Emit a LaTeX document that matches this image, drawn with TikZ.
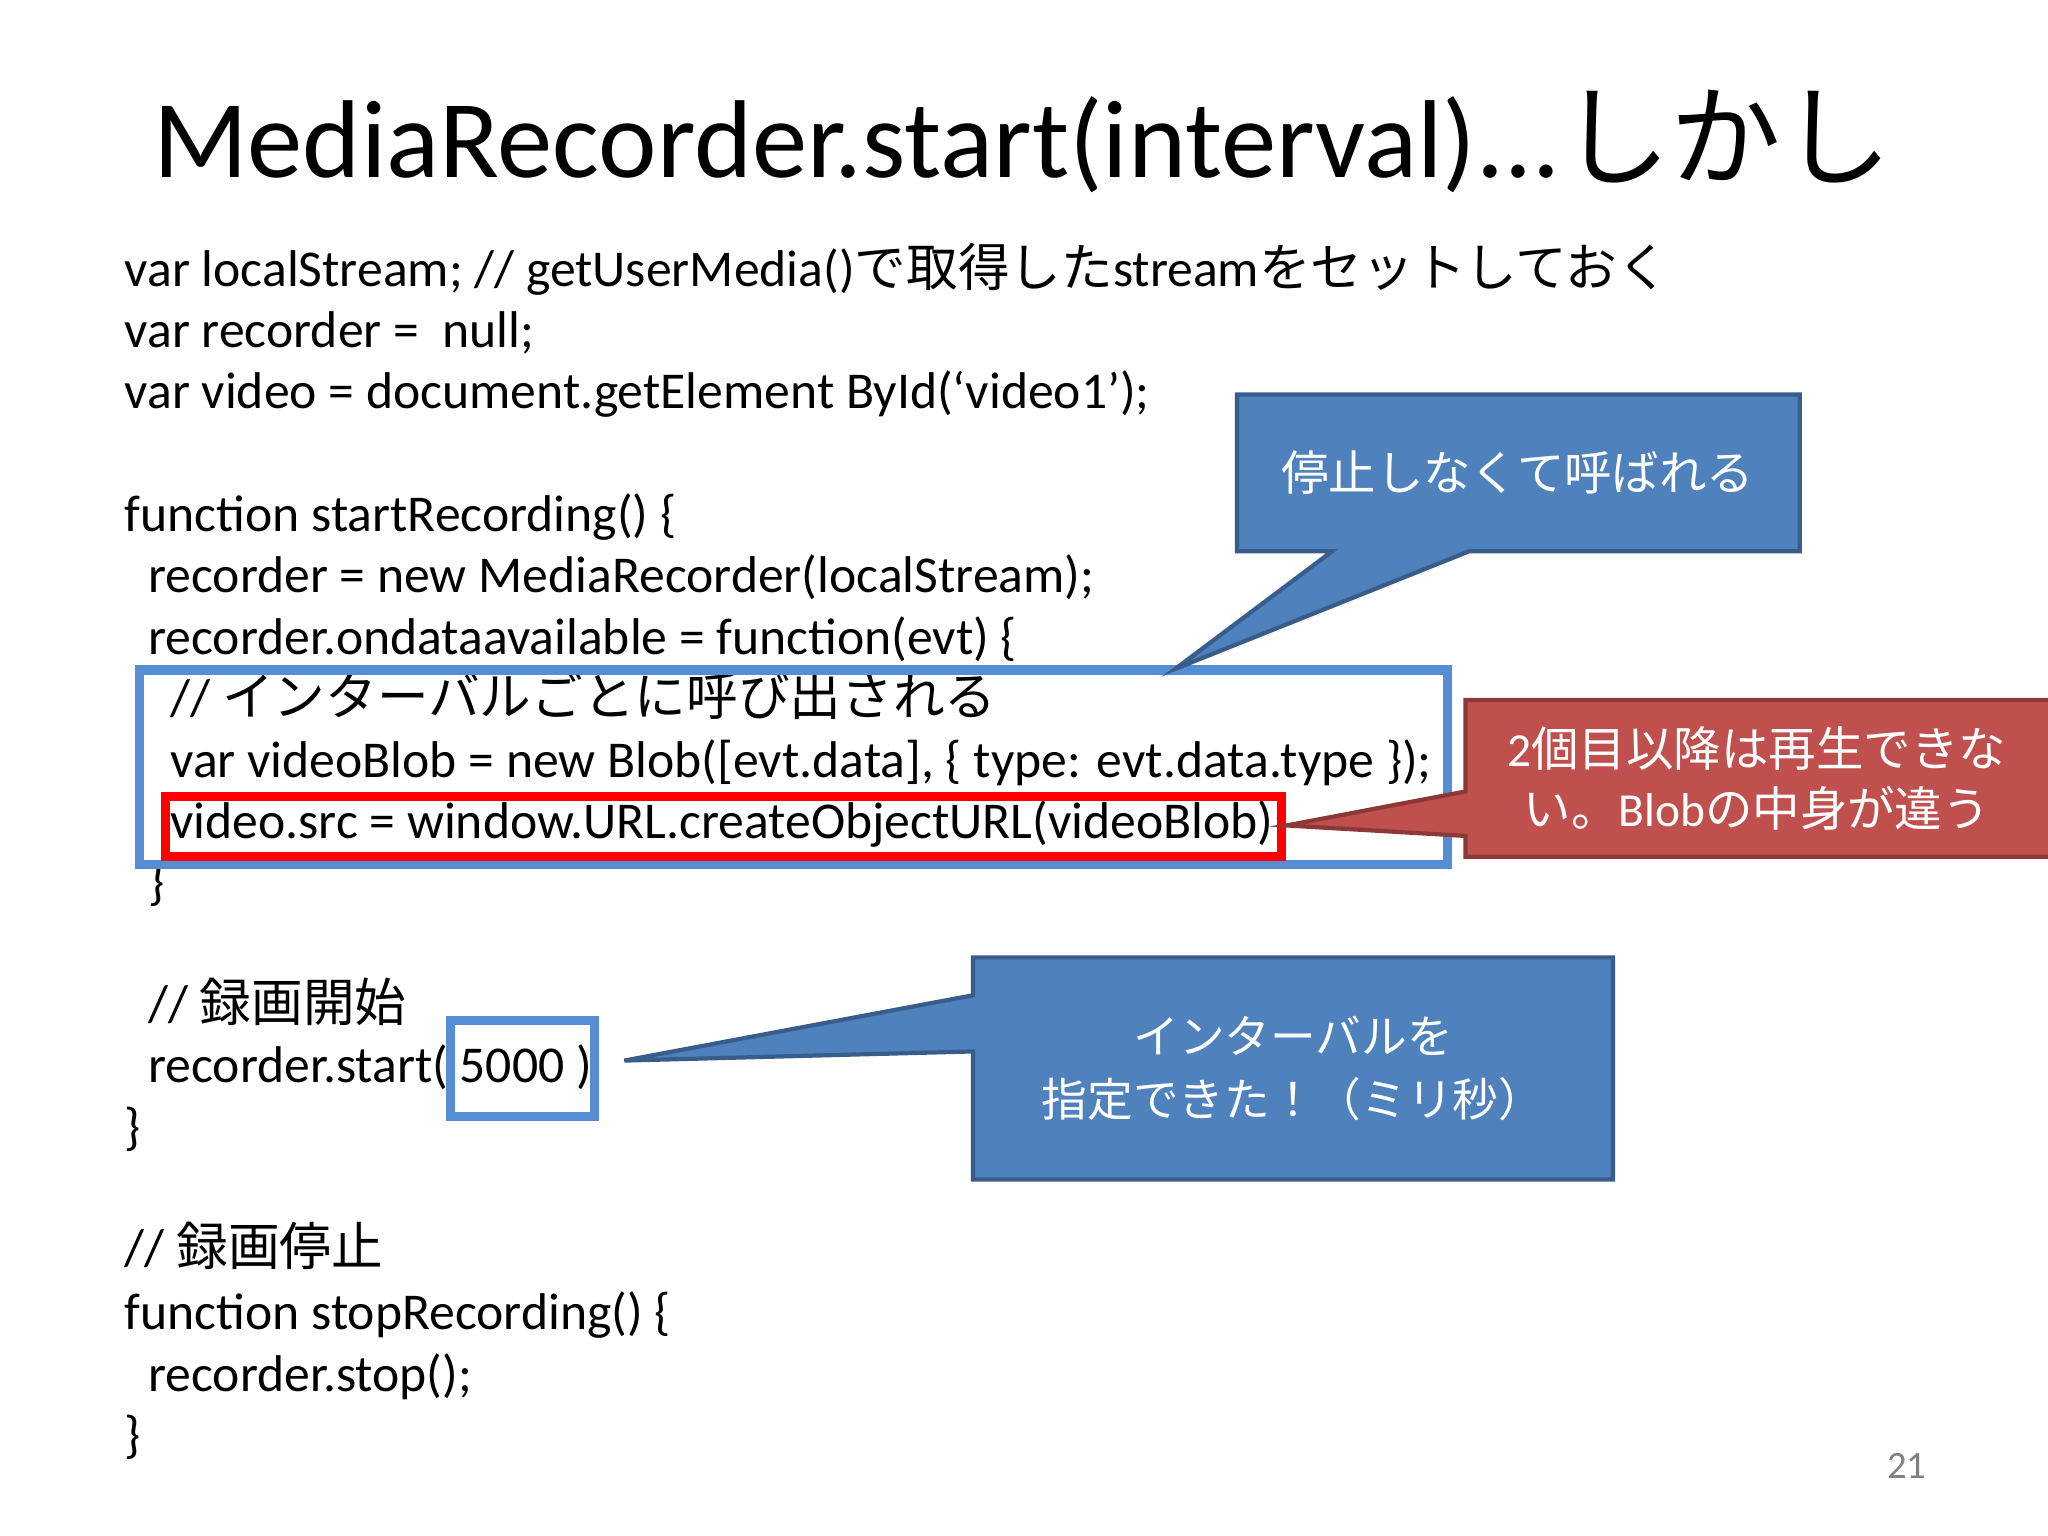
\documentclass[tikz,border=0pt]{standalone}
\usepackage{fontspec}
\setmainfont{Carlito}
\newfontfamily\jp{Noto Sans CJK JP}
\newcommand{\J}[1]{{\jp #1}}
\definecolor{cbfill}{HTML}{4F81BD}
\definecolor{cbline}{HTML}{385D8A}
\definecolor{crfill}{HTML}{C0504D}
\definecolor{crline}{HTML}{8C3836}
\definecolor{hlblue}{HTML}{558ED5}
\begin{document}
\begin{tikzpicture}[x=0.01306cm,y=-0.01306cm,
  code/.style={anchor=base west,inner sep=0pt,font=\fontsize{14.7}{18}\selectfont},
  bcall/.style={fill=cbfill,draw=cbline,line width=1.2pt},
  rcall/.style={fill=crfill,draw=crline,line width=1.2pt},
  ctext/.style={text=white,align=center,font=\fontsize{13.5}{17}\selectfont}]
\useasboundingbox (0,0) rectangle (1568,1176);
\node[anchor=base,inner sep=0pt,font=\fontsize{31.5}{38}\selectfont] (title) at (783,136) {MediaRecorder.start(interval)...\J{しかし}};
\node[code] (l1) at (95,219) {var localStream; // getUserMedia()\J{で取得した}stream\J{をセットしておく}};
\node[code] (l2) at (95,266) {var recorder =\ \ null;};
\node[code] (l3) at (95,313) {var video = document.getElement ById(‘video1’);};
\node[code] (l4) at (95,407) {function startRecording() \{};
\node[code] (l5) at (113,454) {recorder = new MediaRecorder(localStream);};
\node[code] (l6) at (113,501) {recorder.ondataavailable = function(evt) \{};
\node[code] (l7) at (130,548) {// \J{インターバルごとに呼び出される}};
\node[code] (l8) at (130,595) {var videoBlob = new Blob([evt.data], \{ type: evt.data.type \});};
\node[code] (l9) at (130,642) {video.src = window.URL.createObjectURL(videoBlob);};
\node[code] (l10) at (113,689) {\}};
\node[code] (l11) at (113,782) {// \J{録画開始}};
\node[code] (l12) at (113,829) {recorder.start( 5000 )};
\node[code] (l13) at (95,876) {\}};
\node[code] (l14) at (95,969) {// \J{録画停止}};
\node[code] (l15) at (95,1018) {function stopRecording() \{};
\node[code] (l16) at (113,1065) {recorder.stop();};
\node[code] (l17) at (95,1112) {\}};
\node[text=gray,font=\fontsize{11}{13}\selectfont] (pg) at (1460,1122) {21};
% highlight boxes
\draw[hlblue,line width=2.6pt] (107,513) rectangle (1108,662);
\draw[red,line width=2.6pt] (127,610) rectangle (981,656);
\draw[hlblue,line width=2.6pt] (345,781) rectangle (455,855);
% callouts
\draw[bcall] (947,302) -- (1378,302) -- (1378,422) -- (1125,422) -- (900,512) -- (1020,422) -- (947,422) -- cycle;
\node[ctext] (c1) at (1162,362) {\J{停止しなくて呼ばれる}};
\draw[rcall] (1122,536) -- (1580,536) -- (1580,656) -- (1122,656) -- (1122,640) -- (985,632) -- (1122,606) -- cycle;
\node[ctext] (c2) at (1345,596) {2\J{個目以降は再生できな}\\\J{い。}Blob\J{の中身が違う}};
\draw[bcall] (745,733) -- (1235,733) -- (1235,903) -- (745,903) -- (745,805) -- (478,812) -- (745,762) -- cycle;
\node[ctext,font=\fontsize{13}{18}\selectfont] (c3) at (990,818) {\J{インターバルを}\\\J{指定できた！（ミリ秒）}};
\end{tikzpicture}
\end{document}
